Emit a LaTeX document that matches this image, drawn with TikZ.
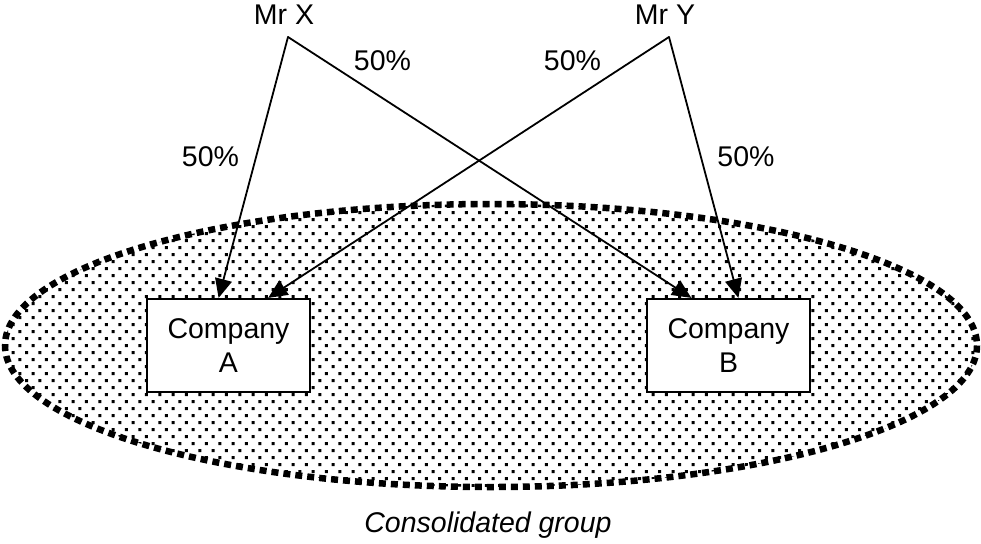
\documentclass[tikz,border=0pt]{standalone}
\usepackage{fontspec}
\setmainfont{Liberation Sans}
\usetikzlibrary{arrows.meta,calc}
\begin{document}
\begin{tikzpicture}[x=1pt,y=-1pt,
  lbl/.style={font=\fontsize{28.5}{34}\selectfont, inner sep=0pt},
  company/.style={draw, line width=2.2pt, fill=white, minimum width=163pt, minimum height=93pt, align=center, font=\fontsize{28.5}{34}\selectfont, inner sep=0pt},
  own/.style={line width=1.8pt, line cap=round, -{Triangle[length=19pt,width=17pt]}},
  grp/.style={line width=6.5pt, dash pattern=on 7pt off 5pt}]
\useasboundingbox (0,0) rectangle (981,543);
\begin{scope}
\clip (491,345.5) ellipse [x radius=486, y radius=141.5];
\fill \foreach \j in {0,...,42} { \foreach \i in {0,...,74} { ({5+13.33*\i+6.67*mod(\j,2)}, {204+7*\j}) rectangle ++(3,3) } };
\end{scope}
\draw[grp] (491,345.5) ellipse [x radius=486, y radius=141.5];
\node[company] (a) at (228.5,345.5) {Company\\A};
\node[company] (b) at (728.5,345.5) {Company\\B};
\node[lbl] (mrx) at (284,15) {Mr X};
\node[lbl] (mry) at (665,15) {Mr Y};
\coordinate (px) at (288,37);
\coordinate (py) at (669,37);
\draw[own] (px) -- ($(a.north west)!0.44!(a.north east)$);
\draw[own] (px) -- ($(b.north west)!0.275!(b.north east)$);
\draw[own] (py) -- ($(a.north west)!0.74!(a.north east)$);
\draw[own] (py) -- ($(b.north west)!0.56!(b.north east)$);
\node[lbl] (pxa) at (210.5,157) {50\%};
\node[lbl] (pxb) at (382.5,61) {50\%};
\node[lbl] (pya) at (572.5,61) {50\%};
\node[lbl] (pyb) at (746,157) {50\%};
\node[lbl, font=\fontsize{28.5}{34}\selectfont\itshape] (cg) at (488,525) {Consolidated group};
\end{tikzpicture}
\end{document}
